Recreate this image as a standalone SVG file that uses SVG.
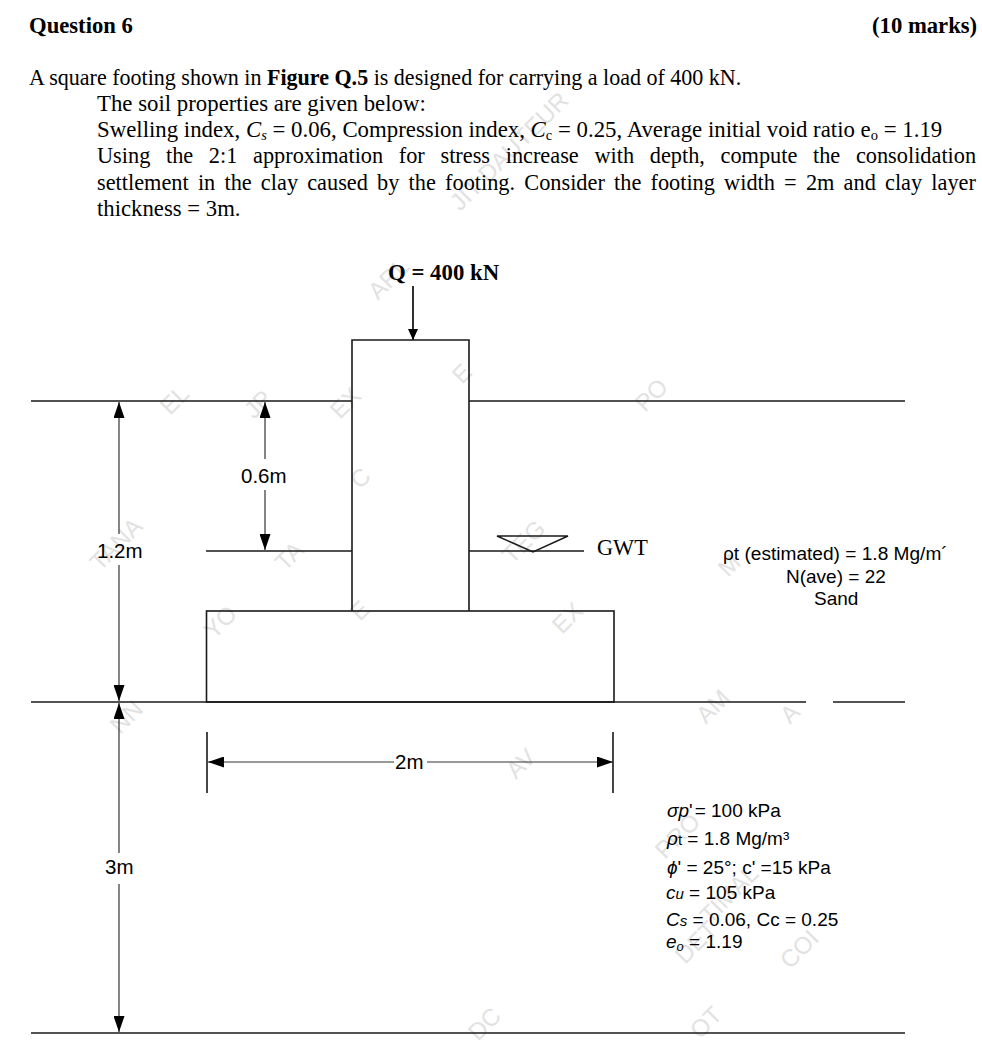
<svg xmlns="http://www.w3.org/2000/svg" width="982" height="1048" viewBox="0 0 982 1048">
<style>
.t{font-family:"Liberation Serif","Times New Roman",serif;font-size:23.5px;fill:#000}
.b{font-weight:bold}
.s{font-family:"Liberation Sans",Arial,sans-serif;font-size:20.5px;fill:#000}
.c{font-family:"Liberation Sans",Arial,sans-serif;font-size:19px;fill:#000}
.l{stroke:#1a1a1a;stroke-width:1.6;fill:none}
.d{stroke:#333;stroke-width:1.2;fill:none}
.w{font-family:"Liberation Sans",Arial,sans-serif;font-size:24px;fill:#e2e2e2}
</style>
<defs>
<marker id="a" viewBox="0 0 16 11" refX="16" refY="5.500" markerWidth="16" markerHeight="11" markerUnits="userSpaceOnUse" orient="auto"><path d="M0 0L16 5.500L0 11Z" fill="#000"/></marker>
<marker id="q" viewBox="0 0 11 10" refX="11" refY="5" markerWidth="11" markerHeight="10" markerUnits="userSpaceOnUse" orient="auto"><path d="M0 0L11 5L0 10Z" fill="#000"/></marker>
</defs>
<rect width="982" height="1048" fill="#fff"/>
<g id="watermark">
<text class="w" transform="translate(378 301) rotate(-45)">ARL</text>
<text class="w" transform="translate(170 416) rotate(-45)">EL</text>
<text class="w" transform="translate(254 420) rotate(-45)">JP</text>
<text class="w" transform="translate(340 420) rotate(-45)">EX</text>
<text class="w" transform="translate(462 385) rotate(-45)">E</text>
<text class="w" transform="translate(645 413) rotate(-45)">PO</text>
<text class="w" transform="translate(360 490) rotate(-45)">C</text>
<text class="w" transform="translate(285 572) rotate(-45)">TA</text>
<text class="w" transform="translate(512 565) rotate(-45)">TEG</text>
<text class="w" transform="translate(728 578) rotate(-45)">M</text>
<text class="w" transform="translate(100 572) rotate(-45)">TANA</text>
<text class="w" transform="translate(214 640) rotate(-45)">YO</text>
<text class="w" transform="translate(360 622) rotate(-45)">E</text>
<text class="w" transform="translate(562 635) rotate(-45)">EX</text>
<text class="w" transform="translate(120 735) rotate(-45)">NN</text>
<text class="w" transform="translate(706 725) rotate(-45)">AM</text>
<text class="w" transform="translate(790 725) rotate(-45)">A</text>
<text class="w" transform="translate(516 780) rotate(-45)">AV</text>
<text class="w" transform="translate(665 860) rotate(-45)">PRO</text>
<text class="w" transform="translate(685 965) rotate(-45)">DET</text>
<text class="w" transform="translate(710 925) rotate(-45)">TIMAL</text>
<text class="w" transform="translate(790 970) rotate(-45)">COI</text>
<text class="w" transform="translate(478 1042) rotate(-45)">DC</text>
<text class="w" transform="translate(700 1040) rotate(-45)">OT</text>
<text class="w" transform="translate(460 212) rotate(-45)">JIT DAUTEUR</text>
</g>
<g id="question">
<text class="t b" transform="translate(29 33) scale(.965 1)">Question 6</text>
<text class="t b" transform="translate(872 33) scale(.965 1)">(10 marks)</text>
<text class="t" transform="translate(29 85) scale(.938 1)">A square footing shown in <tspan class="b">Figure Q.5</tspan> is designed for carrying a load of 400 kN.</text>
<text class="t" transform="translate(97 111) scale(.971 1)">The soil properties are given below:</text>
<text class="t" transform="translate(97 137) scale(.971 1)">Swelling index, <tspan font-style="italic">C</tspan><tspan font-size="15" dy="3" font-style="italic">s</tspan><tspan dy="-3"> = 0.06, Compression index, </tspan><tspan font-style="italic">C</tspan><tspan font-size="15" dy="3">c</tspan><tspan dy="-3"> = 0.25, Average initial void ratio e</tspan><tspan font-size="15" dy="3">o</tspan><tspan dy="-3"> = 1.19</tspan></text>
<text class="t" transform="translate(97 163) scale(.95 1)" style="word-spacing:10.600px">Using the 2:1 approximation for stress increase with depth, compute the consolidation</text>
<text class="t" transform="translate(97 190) scale(.95 1)" style="word-spacing:3.800px">settlement in the clay caused by the footing. Consider the footing width = 2m and clay layer</text>
<text class="t" transform="translate(97 216) scale(.968 1)">thickness = 3m.</text>
</g>
<g id="connectors">
<path class="l" d="M31 401H352M469 401H905"/>
<path class="l" d="M31 702H806M833 702H905"/>
<path class="l" d="M31 1033H905"/>
<path class="l" d="M206 551H352M469 551H584"/>
<path class="l" style="stroke-width:1.8" d="M413 286V340" marker-end="url(#q)"/>
<path class="d" d="M119 534V402" marker-end="url(#a)"/>
<path class="d" d="M119 565V701" marker-end="url(#a)"/>
<path class="d" d="M119 853V703" marker-end="url(#a)"/>
<path class="d" d="M119 884V1032" marker-end="url(#a)"/>
<path class="d" d="M265 459V402" marker-end="url(#a)"/>
<path class="d" d="M265 490V550" marker-end="url(#a)"/>
<path class="d" d="M394 762H208" marker-end="url(#a)"/>
<path class="d" d="M427 762H613" marker-end="url(#a)"/>
<path class="l" d="M207 732V793M613 732V793"/>
</g>
<g id="column"><path class="l" d="M352 611V340H469V611"/></g>
<g id="footing"><rect class="l" x="206.500" y="611" width="407.500" height="91"/></g>
<g id="gwt-symbol"><path class="l" style="stroke-width:1.4" d="M497 536H568L533 552Z"/><text class="t" style="font-size:22.3px" x="597" y="555">GWT</text></g>
<g id="load"><text class="t b" transform="translate(388 280) scale(.97 1)">Q = 400 kN</text></g>
<g id="dimensions">
<text class="s" x="97" y="558">1.2m</text>
<text class="s" x="241" y="483">0.6m</text>
<text class="s" x="105" y="874">3m</text>
<text class="s" x="395" y="769">2m</text>
</g>
<g id="sand">
<text class="c" x="723" y="560" style="font-size:19.100px">ρt (estimated) = 1.8 Mg/m´</text>
<text class="c" x="786" y="583">N(ave) = 22</text>
<text class="c" x="814" y="605">Sand</text>
</g>
<g id="clay">
<text class="c" x="667" y="817"><tspan font-style="italic">σp</tspan><tspan>'</tspan><tspan dx="2">= 100 kPa</tspan></text>
<text class="c" x="667" y="845"><tspan font-style="italic">ρ</tspan><tspan font-size="15">t</tspan> = 1.8 Mg/m³</text>
<text class="c" x="667" y="874"><tspan font-style="italic">ϕ</tspan>' = 25°; c' =15 kPa</text>
<text class="c" x="666" y="899"><tspan font-style="italic">c</tspan><tspan font-style="italic" font-size="15">u</tspan> = 105 kPa</text>
<text class="c" x="666" y="926"><tspan font-style="italic">C</tspan><tspan font-style="italic" font-size="15">s</tspan> = 0.06, Cc = 0.25</text>
<text class="c" x="666" y="948"><tspan font-style="italic">e</tspan><tspan font-style="italic" font-size="13" dy="3">o</tspan><tspan dy="-3"> = 1.19</tspan></text>
</g>
</svg>
